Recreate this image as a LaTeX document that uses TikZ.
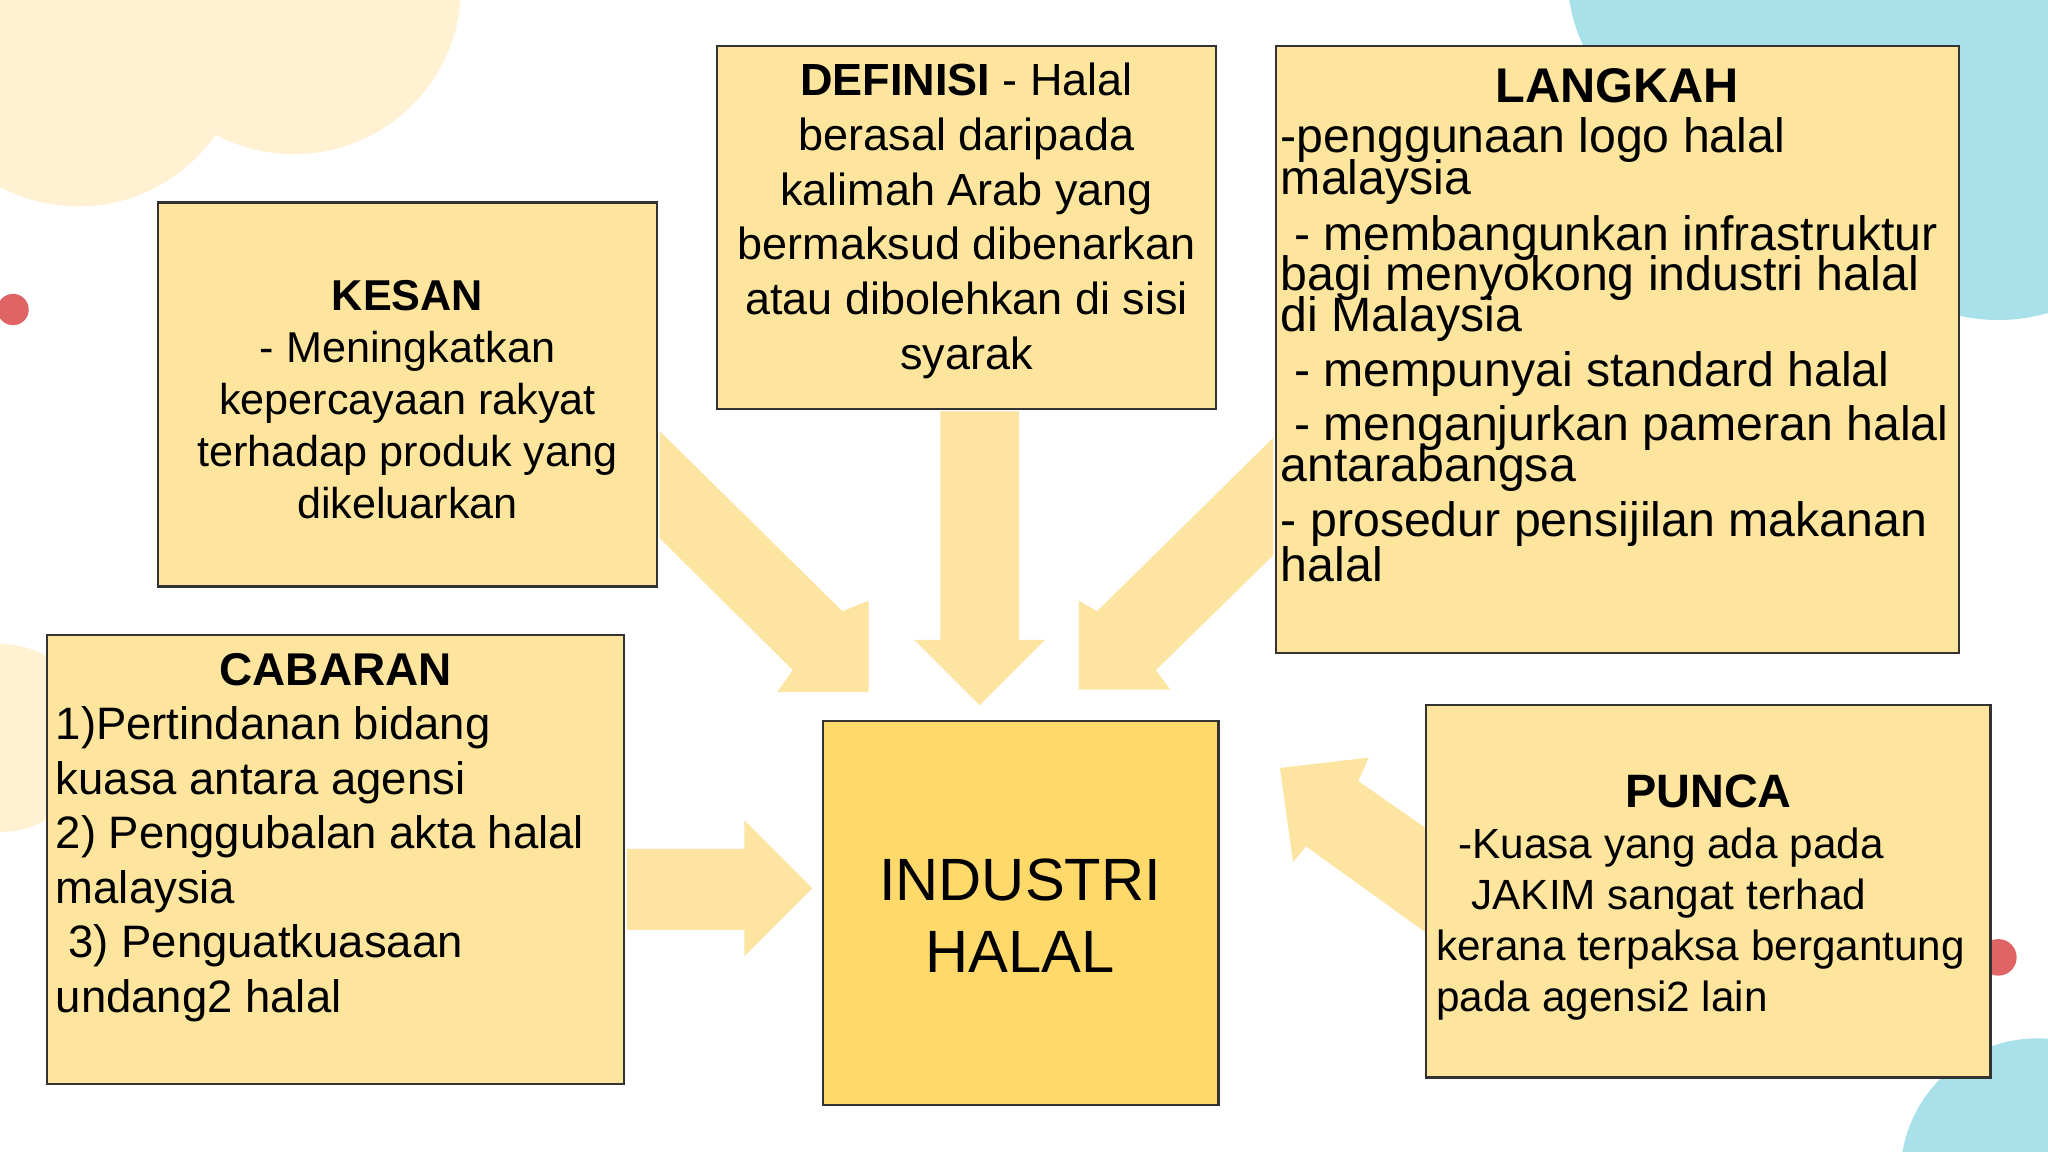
\documentclass[tikz,border=0pt]{standalone}
\usepackage{fontspec}
\setmainfont{Liberation Sans}
\definecolor{boxy}{HTML}{FDE59E}
\definecolor{centery}{HTML}{FFD96A}
\definecolor{arrowy}{HTML}{FDE4A0}
\definecolor{cream}{HTML}{FFF1D2}
\definecolor{skyb}{HTML}{A9E1EB}
\definecolor{redd}{HTML}{E06464}
\definecolor{edge}{HTML}{333333}
\tikzset{
  box/.style={draw=edge,line width=0.5pt,fill=boxy},
  arr/.style={fill=arrowy,draw=none},
  txt/.style={inner sep=0pt,align=center},
}
\begin{document}
\begin{tikzpicture}[x=0.01cm,y=-0.01cm]
\useasboundingbox (0,0) rectangle (1568,882);
\fill[white] (0,0) rectangle (1568,882);
% background decorations
\begin{scope}
\clip (0,0) rectangle (1568,882);
\fill[cream] (225,-10) circle (128);
\fill[cream] (60,30) circle (128);
\fill[cream] (0,565) circle (72);
\fill[skyb] (1330,-20) circle (130);
\fill[skyb] (1530,110) circle (135);
\fill[skyb] (1560,900) circle (105);
\fill[redd] (10,237) circle (12);
\fill[redd] (1530,733) circle (14);
\end{scope}
% arrows
\path[arr] (720,315) -- (780,315) -- (780,490) -- (800,490) -- (750,540) -- (700,490) -- (720,490) -- cycle;
\path[arr] (505,330) -- (645,468) -- (665,460) -- (665,530) -- (595,530) -- (607,513) -- (505,412) -- cycle;
\path[arr] (975,335) -- (840,468) -- (826,460) -- (826,528) -- (896,528) -- (885,513) -- (975,425) -- cycle;
\path[arr] (480,650) -- (570,650) -- (570,628) -- (622,680) -- (570,732) -- (570,712) -- (480,712) -- cycle;
\path[arr] (1093,635) -- (1040,598) -- (1048,580) -- (980,588) -- (990,660) -- (1000,648) -- (1093,715) -- cycle;
% boxes
\draw[box] (121,155) rectangle (503,449);
\draw[box] (549,35) rectangle (931,313);
\draw[box] (977,35) rectangle (1500,500);
\draw[box] (36,486) rectangle (478,830);
\draw[box,fill=centery] (630,552) rectangle (933,846);
\draw[box] (1092,540) rectangle (1524,825);
% texts
\node[txt,font=\fontsize{9.4}{11.3}\selectfont] (kesan) at (312,306)
  {\textbf{KESAN}\\- Meningkatkan\\kepercayaan rakyat\\terhadap produk yang\\dikeluarkan};
\node[txt,font=\fontsize{9.8}{11.9}\selectfont] (def) at (740,169)
  {\textbf{DEFINISI} - Halal\\berasal daripada\\kalimah Arab yang\\bermaksud dibenarkan\\atau dibolehkan di sisi\\syarak};
\node[txt,font=\fontsize{13}{15.6}\selectfont] (ind) at (781,701) {INDUSTRI\\HALAL};
\node[txt,font=\fontsize{10.6}{12}\selectfont\bfseries] (lt) at (1238,66) {LANGKAH};
\foreach \t/\y [count=\i] in {{-penggunaan logo halal}/107,{malaysia}/139,{\ - membangunkan infrastruktur}/182,{bagi menyokong industri halal}/213,{di Malaysia}/244,{\ - mempunyai standard halal}/286,{\ - menganjurkan pameran halal}/328,{antarabangsa}/359,{- prosedur pensijilan makanan}/401,{halal}/432}
  \node[inner sep=0pt,anchor=west,font=\fontsize{10.5}{12}\selectfont] (l\i) at (980,\y) {\t};
\node[txt,font=\fontsize{10}{12}\selectfont\bfseries] (ct) at (257,513) {CABARAN};
\foreach \t/\y [count=\i] in {{1)Pertindanan bidang}/557,{kuasa antara agensi}/599,{2) Penggubalan akta halal}/641,{malaysia}/683,{\ 3) Penguatkuasaan}/724,{undang2 halal}/766}
  \node[inner sep=0pt,anchor=west,font=\fontsize{9.9}{12}\selectfont] (c\i) at (42,\y) {\t};
\node[txt,font=\fontsize{10.2}{12}\selectfont\bfseries] (pt) at (1308,606) {PUNCA};
\foreach \t/\x/\y [count=\i] in {{-Kuasa yang ada pada}/1116/649,{JAKIM sangat terhad}/1126/688,{kerana terpaksa bergantung}/1099/727,{pada agensi2 lain}/1099/766}
  \node[inner sep=0pt,anchor=west,font=\fontsize{9.2}{11}\selectfont] (p\i) at (\x,\y) {\t};
\end{tikzpicture}
\end{document}
